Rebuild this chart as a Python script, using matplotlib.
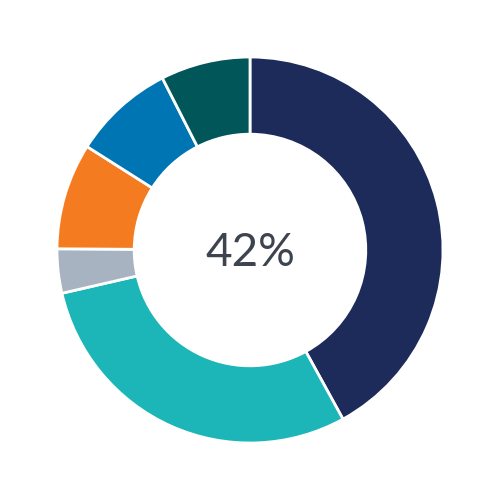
import matplotlib
matplotlib.use("Agg")
import matplotlib.pyplot as plt

labels = ["A", "B", "C", "D", "E", "F"]
values = [42, 29.4, 3.7, 8.9, 8.5, 7.5]
colors = ["#1c2b5a", "#1cb5b8", "#a8b3c2", "#f47b20", "#0075b4", "#005659"]
center_text = "42%"

fig = plt.figure(figsize=(5, 5), dpi=100)
ax = fig.add_axes([0, 0, 1, 1])
ax.pie(values, colors=colors, startangle=90, counterclock=False,
       wedgeprops=dict(width=0.4, edgecolor="white", linewidth=2))
lim = 250 / 193
ax.set_xlim(-lim, lim)
ax.set_ylim(-lim, lim)
ax.set_aspect("equal")
ax.axis("off")
ax.text(0, -0.015, center_text, ha="center", va="center", fontsize=33,
        color="#3d4450", family=["Lato", "DejaVu Sans"], fontweight="normal")
fig.savefig("out.png", dpi=100)
